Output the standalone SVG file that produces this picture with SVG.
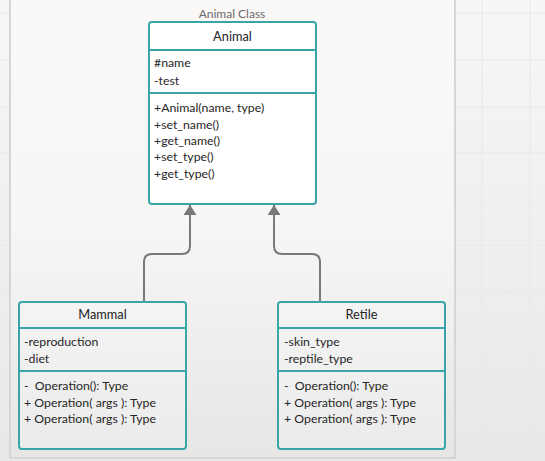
<svg xmlns="http://www.w3.org/2000/svg" width="545" height="461" viewBox="0 0 545 461">
  <defs>
    <linearGradient id="bg" x1="0" y1="0" x2="0" y2="1">
      <stop offset="0" stop-color="#faf9f8"/>
      <stop offset="0.5" stop-color="#f7f6f5"/>
      <stop offset="1" stop-color="#e6e6e6"/>
    </linearGradient>
    <linearGradient id="outer" x1="0" y1="0" x2="0" y2="1">
      <stop offset="0" stop-color="#f7f7f7"/>
      <stop offset="1" stop-color="#e8e8e8"/>
    </linearGradient>
    <linearGradient id="boxfill" x1="0" y1="0" x2="0" y2="1">
      <stop offset="0" stop-color="#f4f4f4"/>
      <stop offset="1" stop-color="#ebebeb"/>
    </linearGradient>
    <marker id="arrow" markerUnits="userSpaceOnUse" markerWidth="12" markerHeight="14" refX="10" refY="6.5" orient="auto">
      <path d="M0,0 L10,6.5 L0,13 Z" fill="#777777"/>
    </marker>
    <style>
      text { font-family: Lato, "Liberation Sans", sans-serif; font-size: 12.3px; fill: #262626; }
      .title { font-size: 12px; fill: #6a6a6a; text-anchor: middle; }
      .hdr { text-anchor: middle; font-size: 12.8px; fill: #222222; }
      .box { stroke: #38a6a9; stroke-width: 2; }
      .sep { stroke: #38a6a9; stroke-width: 2; }
      .conn { fill: none; stroke: #7a7a7a; stroke-width: 2; }
      .grid { stroke: #e8e8e8; stroke-width: 1; }
    </style>
  </defs>

  <!-- canvas -->
  <rect x="0" y="0" width="545" height="461" fill="url(#outer)"/>
  <g class="grid">
    <line x1="0" y1="13" x2="545" y2="13"/>
    <line x1="0" y1="60" x2="545" y2="60"/>
    <line x1="0" y1="107" x2="545" y2="107"/>
    <line x1="0" y1="153" x2="545" y2="153"/>
    <line x1="0" y1="200" x2="545" y2="200"/>
    <line x1="0" y1="245" x2="545" y2="245"/>
    <line x1="0" y1="292" x2="545" y2="292"/>
    <line x1="0" y1="338" x2="545" y2="338"/>
    <line x1="0" y1="385" x2="545" y2="385"/>
    <line x1="0" y1="432" x2="545" y2="432"/>
    <line x1="482" y1="0" x2="482" y2="461"/>
    <line x1="530" y1="0" x2="530" y2="461"/>
  </g>
  <rect x="10" y="-2" width="445" height="460" fill="url(#bg)" stroke="#d6d6d6" stroke-width="2"/>

  <text class="title" x="232" y="18">Animal Class</text>

  <!-- connectors -->
  <g id="connectors">
    <path class="conn" d="M144,301 V262 Q144,254 152,254 H182 Q190,254 190,246 V205" marker-end="url(#arrow)"/>
    <path class="conn" d="M320,301 V262 Q320,254 312,254 H282 Q274,254 274,246 V205" marker-end="url(#arrow)"/>
  </g>

  <!-- Animal -->
  <g id="animal">
    <rect class="box" x="149" y="22" width="167" height="182" rx="3" fill="#ffffff"/>
    <line class="sep" x1="149" y1="50" x2="316" y2="50"/>
    <line class="sep" x1="149" y1="93" x2="316" y2="93"/>
    <text class="hdr" x="232.5" y="41">Animal</text>
    <text x="154" y="67">#name</text>
    <text x="154" y="85">-test</text>
    <text x="154" y="112">+Animal(name, type)</text>
    <text x="154" y="128.5">+set_name()</text>
    <text x="154" y="145">+get_name()</text>
    <text x="154" y="161">+set_type()</text>
    <text x="154" y="177.5">+get_type()</text>
  </g>

  <!-- Mammal -->
  <g id="mammal">
    <rect class="box" x="19" y="302" width="167" height="147" rx="3" fill="url(#boxfill)"/>
    <line class="sep" x1="19" y1="328" x2="186" y2="328"/>
    <line class="sep" x1="19" y1="371" x2="186" y2="371"/>
    <text class="hdr" x="102.5" y="319">Mammal</text>
    <text x="24" y="346">-reproduction</text>
    <text x="24" y="363">-diet</text>
    <text x="24" y="390" xml:space="preserve">-  Operation(): Type</text>
    <text x="24" y="406.5">+ Operation( args ): Type</text>
    <text x="24" y="423">+ Operation( args ): Type</text>
  </g>

  <!-- Retile -->
  <g id="retile">
    <rect class="box" x="278" y="302" width="167" height="147" rx="3" fill="url(#boxfill)"/>
    <line class="sep" x1="278" y1="328" x2="445" y2="328"/>
    <line class="sep" x1="278" y1="371" x2="445" y2="371"/>
    <text class="hdr" x="361.5" y="319">Retile</text>
    <text x="284" y="346">-skin_type</text>
    <text x="284" y="363">-reptile_type</text>
    <text x="284" y="390" xml:space="preserve">-  Operation(): Type</text>
    <text x="284" y="406.5">+ Operation( args ): Type</text>
    <text x="284" y="423">+ Operation( args ): Type</text>
  </g>
</svg>
